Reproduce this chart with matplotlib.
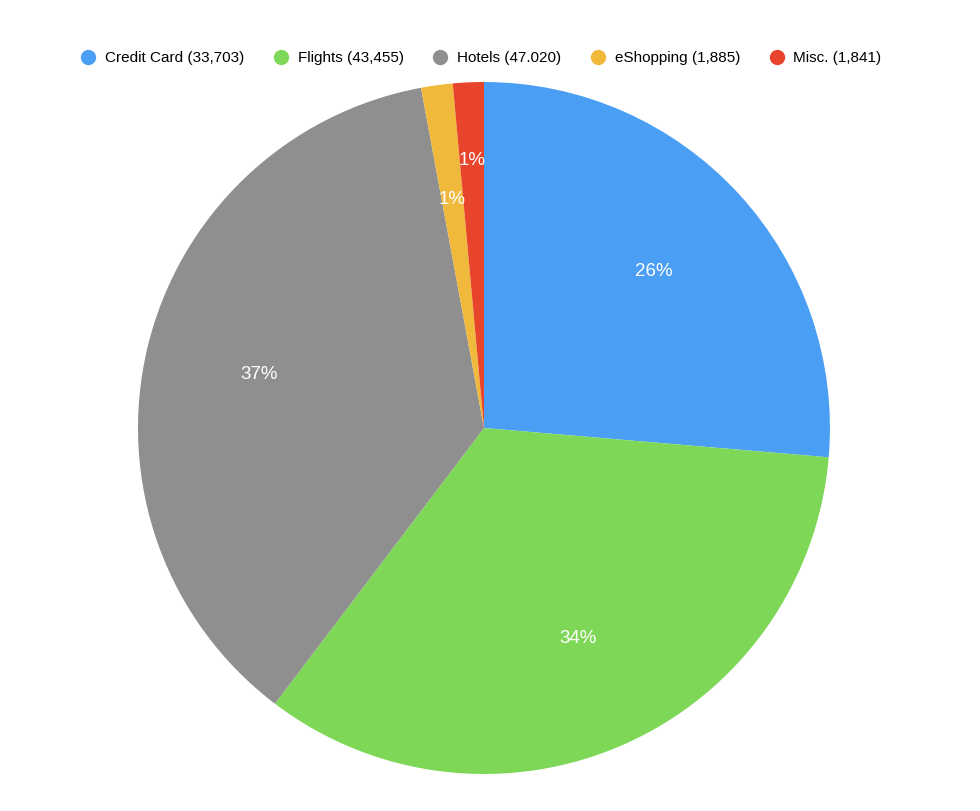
import matplotlib.pyplot as plt

plt.rcParams['font.family'] = ['Liberation Sans', 'DejaVu Sans']

labels = ["Credit Card", "Flights", "Hotels", "eShopping", "Misc."]
values = [33703, 43455, 47020, 1885, 1841]
value_text = ["33,703", "43,455", "47.020", "1,885", "1,841"]
colors = ["#4A9FF5", "#7FD757", "#8F8F8F", "#F0B93B", "#E8432B"]

fig = plt.figure(figsize=(9.8, 8.11), dpi=100)
ax = fig.add_axes([0.1408, 0.0456, 0.7061, 0.8533])

wedges, texts, autotexts = ax.pie(
    values, colors=colors, startangle=90, counterclock=False,
    autopct="%1.0f%%", pctdistance=0.667, radius=1,
    wedgeprops=dict(linewidth=0),
    textprops=dict(color="white", fontsize=13.5),
)
ax.set_xlim(-1, 1)
ax.set_ylim(-1, 1)
ax.set_aspect("equal")

# the small Misc. label sits further out to avoid overlapping
x, y = autotexts[4].get_position()
autotexts[4].set_position((x * 0.775 / 0.667, y * 0.775 / 0.667))

handles = [plt.Line2D([], [], marker="o", linestyle="", markersize=10,
                      markerfacecolor=c, markeredgecolor=c) for c in colors]
leg_labels = [f"{l} ({v})" for l, v in zip(labels, value_text)]
fig.legend(handles, leg_labels, loc="center", bbox_to_anchor=(0.49, 0.928),
           ncol=5, frameon=False, fontsize=11, handletextpad=0.5,
           columnspacing=1.8, handlelength=1.2)

fig.savefig("out.png", dpi=100)
